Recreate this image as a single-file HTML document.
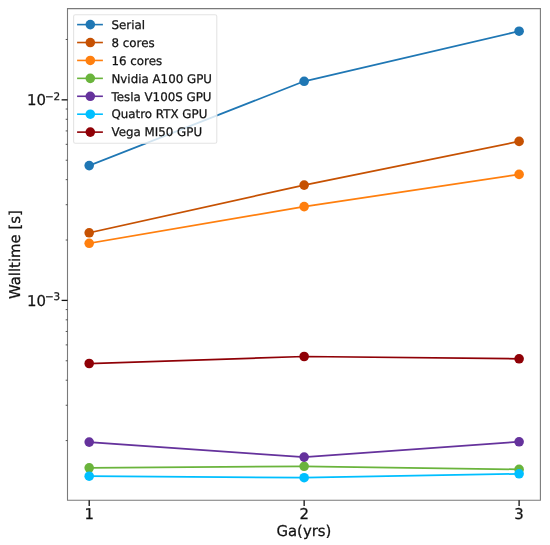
<!DOCTYPE html><html><head><meta charset="utf-8"><style>html,body{margin:0;padding:0;background:#fff;overflow:hidden}svg{display:block;filter:blur(0.3px)}text{font-family:"DejaVu Sans","Liberation Sans",sans-serif;stroke:#111;stroke-width:0.25px;paint-order:stroke;text-rendering:geometricPrecision}</style></head><body>
<svg width="550" height="545" viewBox="0 0 550 545">
<rect x="0" y="0" width="550" height="545" fill="#fff"/>
<polyline points="89.20,165.60 304.15,81.30 519.10,31.20" fill="none" stroke="#1f77b4" stroke-width="1.75" stroke-linejoin="round" stroke-linecap="square"/>
<circle cx="89.20" cy="165.60" r="4.8" fill="#1f77b4"/>
<circle cx="304.15" cy="81.30" r="4.8" fill="#1f77b4"/>
<circle cx="519.10" cy="31.20" r="4.8" fill="#1f77b4"/>
<polyline points="89.20,232.80 304.15,185.10 519.10,141.40" fill="none" stroke="#c65102" stroke-width="1.75" stroke-linejoin="round" stroke-linecap="square"/>
<circle cx="89.20" cy="232.80" r="4.8" fill="#c65102"/>
<circle cx="304.15" cy="185.10" r="4.8" fill="#c65102"/>
<circle cx="519.10" cy="141.40" r="4.8" fill="#c65102"/>
<polyline points="89.20,243.30 304.15,206.60 519.10,174.40" fill="none" stroke="#ff7f0e" stroke-width="1.75" stroke-linejoin="round" stroke-linecap="square"/>
<circle cx="89.20" cy="243.30" r="4.8" fill="#ff7f0e"/>
<circle cx="304.15" cy="206.60" r="4.8" fill="#ff7f0e"/>
<circle cx="519.10" cy="174.40" r="4.8" fill="#ff7f0e"/>
<polyline points="89.20,467.80 304.15,466.30 519.10,469.40" fill="none" stroke="#6ab43c" stroke-width="1.75" stroke-linejoin="round" stroke-linecap="square"/>
<circle cx="89.20" cy="467.80" r="4.8" fill="#6ab43c"/>
<circle cx="304.15" cy="466.30" r="4.8" fill="#6ab43c"/>
<circle cx="519.10" cy="469.40" r="4.8" fill="#6ab43c"/>
<polyline points="89.20,442.10 304.15,457.10 519.10,441.80" fill="none" stroke="#65329c" stroke-width="1.75" stroke-linejoin="round" stroke-linecap="square"/>
<circle cx="89.20" cy="442.10" r="4.8" fill="#65329c"/>
<circle cx="304.15" cy="457.10" r="4.8" fill="#65329c"/>
<circle cx="519.10" cy="441.80" r="4.8" fill="#65329c"/>
<polyline points="89.20,476.20 304.15,477.70 519.10,473.80" fill="none" stroke="#00bfff" stroke-width="1.75" stroke-linejoin="round" stroke-linecap="square"/>
<circle cx="89.20" cy="476.20" r="4.8" fill="#00bfff"/>
<circle cx="304.15" cy="477.70" r="4.8" fill="#00bfff"/>
<circle cx="519.10" cy="473.80" r="4.8" fill="#00bfff"/>
<polyline points="89.20,363.50 304.15,356.50 519.10,358.80" fill="none" stroke="#8f0006" stroke-width="1.75" stroke-linejoin="round" stroke-linecap="square"/>
<circle cx="89.20" cy="363.50" r="4.8" fill="#8f0006"/>
<circle cx="304.15" cy="356.50" r="4.8" fill="#8f0006"/>
<circle cx="519.10" cy="358.80" r="4.8" fill="#8f0006"/>
<path d="M67.5 8.6V500.2H540.4V8.6Z" fill="none" stroke="#7a7a7a" stroke-width="1.1"/>
<line x1="89.2" y1="500.2" x2="89.2" y2="506.0" stroke="#111" stroke-width="1.3"/>
<text x="89.2" y="518.6" font-size="14.9" text-anchor="middle" fill="#111">1</text>
<line x1="304.15" y1="500.2" x2="304.15" y2="506.0" stroke="#111" stroke-width="1.3"/>
<text x="304.15" y="518.6" font-size="14.9" text-anchor="middle" fill="#111">2</text>
<line x1="519.1" y1="500.2" x2="519.1" y2="506.0" stroke="#111" stroke-width="1.3"/>
<text x="519.1" y="518.6" font-size="14.9" text-anchor="middle" fill="#111">3</text>
<line x1="61.6" y1="99.85" x2="67.5" y2="99.85" stroke="#111" stroke-width="1.3"/>
<text x="27.1" y="105.30" font-size="14.9" fill="#111">10</text>
<text x="44.9" y="99.60" font-size="10.43" fill="#111">−2</text>
<line x1="61.6" y1="300.40" x2="67.5" y2="300.40" stroke="#111" stroke-width="1.3"/>
<text x="27.1" y="305.85" font-size="14.9" fill="#111">10</text>
<text x="44.9" y="300.15" font-size="10.43" fill="#111">−3</text>
<line x1="65.7" y1="440.58" x2="67.5" y2="440.58" stroke="#444" stroke-width="0.9"/>
<line x1="65.7" y1="405.26" x2="67.5" y2="405.26" stroke="#444" stroke-width="0.9"/>
<line x1="65.7" y1="380.21" x2="67.5" y2="380.21" stroke="#444" stroke-width="0.9"/>
<line x1="65.7" y1="360.77" x2="67.5" y2="360.77" stroke="#444" stroke-width="0.9"/>
<line x1="65.7" y1="344.89" x2="67.5" y2="344.89" stroke="#444" stroke-width="0.9"/>
<line x1="65.7" y1="331.47" x2="67.5" y2="331.47" stroke="#444" stroke-width="0.9"/>
<line x1="65.7" y1="319.84" x2="67.5" y2="319.84" stroke="#444" stroke-width="0.9"/>
<line x1="65.7" y1="309.58" x2="67.5" y2="309.58" stroke="#444" stroke-width="0.9"/>
<line x1="65.7" y1="240.03" x2="67.5" y2="240.03" stroke="#444" stroke-width="0.9"/>
<line x1="65.7" y1="204.71" x2="67.5" y2="204.71" stroke="#444" stroke-width="0.9"/>
<line x1="65.7" y1="179.66" x2="67.5" y2="179.66" stroke="#444" stroke-width="0.9"/>
<line x1="65.7" y1="160.22" x2="67.5" y2="160.22" stroke="#444" stroke-width="0.9"/>
<line x1="65.7" y1="144.34" x2="67.5" y2="144.34" stroke="#444" stroke-width="0.9"/>
<line x1="65.7" y1="130.92" x2="67.5" y2="130.92" stroke="#444" stroke-width="0.9"/>
<line x1="65.7" y1="119.29" x2="67.5" y2="119.29" stroke="#444" stroke-width="0.9"/>
<line x1="65.7" y1="109.03" x2="67.5" y2="109.03" stroke="#444" stroke-width="0.9"/>
<line x1="65.7" y1="39.48" x2="67.5" y2="39.48" stroke="#444" stroke-width="0.9"/>
<text x="303.95" y="535.5" font-size="14.9" text-anchor="middle" fill="#111">Ga(yrs)</text>
<text transform="translate(20.4,254.6) rotate(-90)" x="0" y="0" font-size="14.9" text-anchor="middle" fill="#111">Walltime [s]</text>
<rect x="73.6" y="14.7" width="143.20000000000002" height="128.60000000000002" rx="1.8" fill="#fff" fill-opacity="0.8" stroke="#e4e4e4" stroke-width="1.1"/>
<line x1="77.1" y1="24.60" x2="102.9" y2="24.60" stroke="#1f77b4" stroke-width="1.6"/>
<circle cx="90.3" cy="24.60" r="4.8" fill="#1f77b4"/>
<text x="111.5" y="29.10" font-size="11.85" fill="#111">Serial</text>
<line x1="77.1" y1="42.52" x2="102.9" y2="42.52" stroke="#c65102" stroke-width="1.6"/>
<circle cx="90.3" cy="42.52" r="4.8" fill="#c65102"/>
<text x="111.5" y="46.96" font-size="11.85" fill="#111">8 cores</text>
<line x1="77.1" y1="60.44" x2="102.9" y2="60.44" stroke="#ff7f0e" stroke-width="1.6"/>
<circle cx="90.3" cy="60.44" r="4.8" fill="#ff7f0e"/>
<text x="111.5" y="64.82" font-size="11.85" fill="#111">16 cores</text>
<line x1="77.1" y1="78.36" x2="102.9" y2="78.36" stroke="#6ab43c" stroke-width="1.6"/>
<circle cx="90.3" cy="78.36" r="4.8" fill="#6ab43c"/>
<text x="111.5" y="82.68" font-size="11.85" fill="#111">Nvidia A100 GPU</text>
<line x1="77.1" y1="96.28" x2="102.9" y2="96.28" stroke="#65329c" stroke-width="1.6"/>
<circle cx="90.3" cy="96.28" r="4.8" fill="#65329c"/>
<text x="111.5" y="100.54" font-size="11.85" fill="#111">Tesla V100S GPU</text>
<line x1="77.1" y1="114.20" x2="102.9" y2="114.20" stroke="#00bfff" stroke-width="1.6"/>
<circle cx="90.3" cy="114.20" r="4.8" fill="#00bfff"/>
<text x="111.5" y="118.40" font-size="11.85" fill="#111">Quatro RTX GPU</text>
<line x1="77.1" y1="132.12" x2="102.9" y2="132.12" stroke="#8f0006" stroke-width="1.6"/>
<circle cx="90.3" cy="132.12" r="4.8" fill="#8f0006"/>
<text x="111.5" y="136.26" font-size="11.85" fill="#111">Vega MI50 GPU</text>
</svg></body></html>
